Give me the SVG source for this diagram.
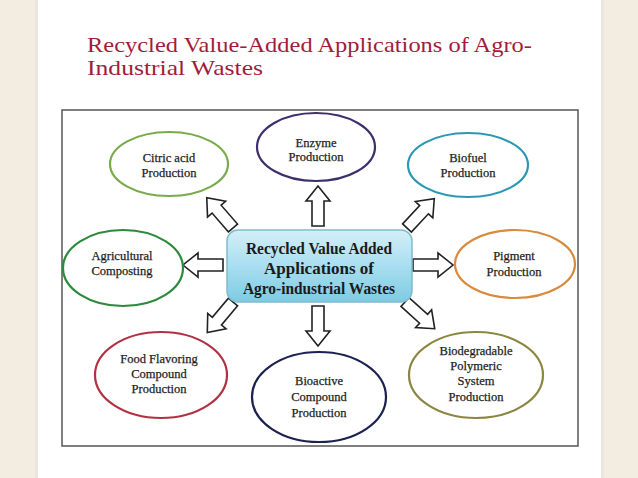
<svg xmlns="http://www.w3.org/2000/svg" width="638" height="478" viewBox="0 0 638 478">
<style>
.title{font-family:"Liberation Serif",serif;font-size:22px;fill:#a11c3a}
.lbl{font-family:"Liberation Serif",serif;font-size:12.5px;fill:#1e1e1e;text-anchor:middle;stroke:#1e1e1e;stroke-width:0.25}
.ctr{font-family:"Liberation Serif",serif;font-size:17px;font-weight:bold;fill:#1a1a1a;text-anchor:middle}
.node{fill:#fff;stroke-width:2.2}
.arr{fill:#fff;stroke:#222;stroke-width:1.6;stroke-linejoin:miter}
</style>
<defs>
<linearGradient id="cg" x1="0" y1="0" x2="0" y2="1">
<stop offset="0" stop-color="#d4eff7"/>
<stop offset="0.5" stop-color="#a9def0"/>
<stop offset="1" stop-color="#7fcbe2"/>
</linearGradient>
<path id="ar" d="M0,-6 H25 V-12 L40,0 L25,12 V6 H0 Z"/>
</defs>
<rect x="0" y="0" width="638" height="478" fill="#f3ece0"/>
<rect x="35" y="0" width="3" height="478" fill="#ebe7e0"/>
<rect x="601" y="0" width="3" height="478" fill="#ebe7e0"/>
<rect x="38" y="0" width="563" height="478" fill="#ffffff"/>
<text class="title" x="87" y="52" textLength="445" lengthAdjust="spacingAndGlyphs">Recycled Value-Added Applications of Agro-</text>
<text class="title" x="87" y="75" textLength="176" lengthAdjust="spacingAndGlyphs">Industrial Wastes</text>
<rect x="62" y="110" width="516" height="336" fill="#fff" stroke="#555" stroke-width="1.5"/>
<g id="connectors">
<use href="#ar" class="arr" transform="translate(318,226) rotate(-90)"/>
<use href="#ar" class="arr" transform="translate(223,265) rotate(180)"/>
<use href="#ar" class="arr" transform="translate(413,265)"/>
<use href="#ar" class="arr" transform="translate(318,306) rotate(90)"/>
<use href="#ar" class="arr" transform="translate(233,228) rotate(-131)"/>
<use href="#ar" class="arr" transform="translate(407,228) rotate(-47)"/>
<use href="#ar" class="arr" transform="translate(233,302) rotate(130)"/>
<use href="#ar" class="arr" transform="translate(405,302) rotate(42)"/>
</g>
<g id="center">
<rect x="227" y="230" width="185" height="72" rx="11" fill="url(#cg)" stroke="#7fbccf" stroke-width="1.5"/>
<text class="ctr" x="319" y="254" textLength="146" lengthAdjust="spacingAndGlyphs">Recycled Value Added</text>
<text class="ctr" x="319" y="274">Applications of</text>
<text class="ctr" x="319" y="294" textLength="152" lengthAdjust="spacingAndGlyphs">Agro-industrial Wastes</text>
</g>
<g id="citric">
<ellipse class="node" cx="169" cy="164" rx="59" ry="32" stroke="#7aab4a"/>
<text class="lbl" x="169" y="162">Citric acid</text>
<text class="lbl" x="169" y="177">Production</text>
</g>
<g id="enzyme">
<ellipse class="node" cx="316" cy="147" rx="59" ry="34" stroke="#3c2f6b"/>
<text class="lbl" x="316" y="147">Enzyme</text>
<text class="lbl" x="316" y="161">Production</text>
</g>
<g id="biofuel">
<ellipse class="node" cx="468" cy="165" rx="60" ry="32" stroke="#2b98b3"/>
<text class="lbl" x="468" y="162">Biofuel</text>
<text class="lbl" x="468" y="177">Production</text>
</g>
<g id="agricultural">
<ellipse class="node" cx="123" cy="268" rx="60" ry="38" stroke="#2d8a3c"/>
<text class="lbl" x="122" y="260">Agricultural</text>
<text class="lbl" x="122" y="275">Composting</text>
</g>
<g id="pigment">
<ellipse class="node" cx="515" cy="264" rx="60" ry="34" stroke="#d98a3d"/>
<text class="lbl" x="514" y="260">Pigment</text>
<text class="lbl" x="514" y="276">Production</text>
</g>
<g id="food">
<ellipse class="node" cx="161" cy="375" rx="66" ry="43" stroke="#b03242"/>
<text class="lbl" x="159" y="363">Food Flavoring</text>
<text class="lbl" x="159" y="378">Compound</text>
<text class="lbl" x="159" y="393">Production</text>
</g>
<g id="bioactive">
<ellipse class="node" cx="319" cy="397" rx="67" ry="45" stroke="#1b2150"/>
<text class="lbl" x="319" y="385">Bioactive</text>
<text class="lbl" x="319" y="401">Compound</text>
<text class="lbl" x="319" y="417">Production</text>
</g>
<g id="biodegradable">
<ellipse class="node" cx="476" cy="375" rx="67" ry="43" stroke="#8b8642"/>
<text class="lbl" x="476" y="355">Biodegradable</text>
<text class="lbl" x="476" y="370">Polymeric</text>
<text class="lbl" x="476" y="385">System</text>
<text class="lbl" x="476" y="401">Production</text>
</g>
</svg>
